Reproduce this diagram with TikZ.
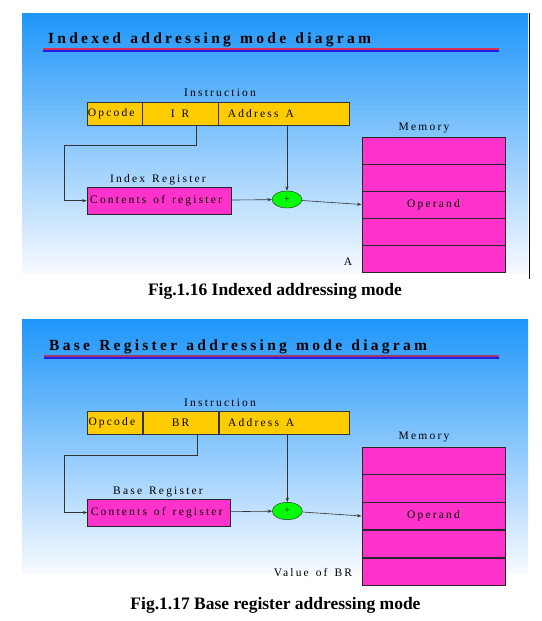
\documentclass[tikz,border=0pt]{standalone}
\usepackage{xcolor}
\usepackage{fontspec}
\setmainfont{Liberation Serif}
\usepackage{tikz}
\usetikzlibrary{shapes,arrows.meta,positioning}

\definecolor{bgtop}{RGB}{30,150,250}
\definecolor{bgmid}{RGB}{150,196,252}
\definecolor{bgbottom}{RGB}{248,250,255}
\definecolor{instrgold}{RGB}{255,204,0}
\definecolor{regpink}{RGB}{255,51,204}
\definecolor{addgreen}{RGB}{0,255,0}
\definecolor{rulered}{RGB}{214,45,80}
\definecolor{rulepurple}{RGB}{158,58,110}
\definecolor{ruleblue}{RGB}{30,30,230}

\newcommand{\lblfont}{\fontsize{11.5}{13}\selectfont\addfontfeature{LetterSpace=19}\spaceskip=7pt\relax}
\newcommand{\headfont}{\fontsize{15.5}{18}\selectfont\bfseries\addfontfeature{LetterSpace=21}\spaceskip=9.3pt\relax}
\newcommand{\cell}[2]{\makebox[#1][l]{#2}}

\tikzset{
  instr/.style={draw=black!80, fill=instrgold, minimum height=23.6pt, inner ysep=0pt, font=\lblfont},
  regbox/.style={draw=black!85, fill=regpink, inner ysep=0pt, font=\lblfont},
  memcell/.style={draw=black!85, fill=regpink, minimum width=143.5pt, inner sep=0pt, font=\lblfont},
  adder/.style={ellipse, draw=black!85, fill=addgreen, inner sep=0pt, font=\fontsize{10}{10}\selectfont},
  lbl/.style={font=\lblfont, anchor=base},
  heading/.style={font=\headfont, anchor=base west, inner sep=0pt},
  caption/.style={font=\fontsize{17.5}{20}\selectfont\bfseries, anchor=base, inner sep=0pt},
  link/.style={draw=black!80, line width=0.6pt}
}

\begin{document}
\begin{tikzpicture}[x=1pt, y=-1pt, >={Stealth[length=4.5pt,width=3.2pt]}]
\useasboundingbox (0,0) rectangle (541,621);

% indexed addressing
\shade[top color=bgtop, middle color=bgmid, bottom color=bgbottom] (22,13) rectangle (528,273);
\draw[line width=0.8pt] (529,13) -- (529,279);
\node (title1) [heading] at (48,43.3) {Indexed addressing mode diagram};
\draw[rulered, line width=2pt] (43,49) -- (499,49);
\draw[ruleblue, line width=2pt] (43,51.4) -- (499,51.4);

\node (opcode1) [instr, anchor=north west, inner xsep=1pt] at (86.7,101.7) {\cell{53pt}{Opcode}};
\node (ir) [instr, right=0pt of opcode1, minimum width=75.6pt, inner xsep=0pt] {I R};
\node (addr1) [instr, right=0pt of ir, inner xsep=9.5pt] {\cell{111.7pt}{Address A}};
\node (instrlbl1) [lbl] at (220,96.5) {Instruction};

\node (m11) [memcell, anchor=north west, minimum height=26.6pt] at (361.5,137) {};
\node (m12) [memcell, minimum height=26.6pt, below=0pt of m11] {};
\node (m13) [memcell, minimum height=26.6pt, below=0pt of m12] {Operand};
\node (m14) [memcell, minimum height=26.6pt, below=0pt of m13] {};
\node (m15) [memcell, minimum height=26.6pt, below=0pt of m14] {};
\node (memlbl1) [lbl] at (424,130.7) {Memory};
\node (alabel) [lbl] at (348,265.7) {A};

\node (ixreg) [regbox, anchor=north west, minimum height=27pt, inner xsep=3.3pt] at (86.7,187) {\cell{137.2pt}{Contents of register}};
\node (ixlbl) [lbl] at (158,182.7) {Index Register};
\node (plus1) [adder, minimum width=30pt, minimum height=17pt] at (287,199.5) {+};

\coordinate (bend1) at (64,145.7);
\draw[link, ->] ([xshift=16.5pt]ir.south) |- (bend1) |- (ixreg.west);
\draw[link, ->] (plus1.north |- addr1.south) -- (plus1.north);
\draw[link, ->] (ixreg) -- (plus1);
\draw[link, ->] (plus1) -- (m13.west);

\node (cap1) [caption] at (275,295) {Fig.1.16 Indexed addressing mode};

% base register addressing
\shade[top color=bgtop, middle color=bgmid, bottom color=bgbottom] (22,319) rectangle (528,573);
\node (title2) [heading] at (49,350) {Base Register addressing mode diagram};
\draw[rulepurple, line width=2pt] (44,355.7) -- (499,355.7);
\draw[ruleblue, line width=2pt] (44,358.1) -- (499,358.1);

\node (opcode2) [instr, anchor=north west, inner xsep=1pt] at (87.3,410.7) {\cell{53pt}{Opcode}};
\node (br) [instr, right=0pt of opcode2, minimum width=75.4pt, inner xsep=0pt] {BR};
\node (addr2) [instr, right=0pt of br, inner xsep=9.5pt] {\cell{111.6pt}{Address A}};
\node (instrlbl2) [lbl] at (220,406) {Instruction};

\node (m21) [memcell, anchor=north west, minimum height=27.3pt] at (361.5,446.7) {};
\node (m22) [memcell, minimum height=27.3pt, below=0pt of m21] {};
\node (m23) [memcell, minimum height=27.3pt, below=0pt of m22] {Operand};
\node (m24) [memcell, minimum height=27.3pt, below=0pt of m23] {};
\node (m25) [memcell, minimum height=27.3pt, below=0pt of m24] {};
\node (memlbl2) [lbl] at (424,439.4) {Memory};
\node (brvalue) [lbl] at (313,576) {Value of BR};

\node (basereg) [regbox, anchor=north west, minimum height=27.3pt, inner xsep=3.3pt] at (87.3,498.7) {\cell{136.4pt}{Contents of register}};
\node (baselbl) [lbl] at (158,494) {Base Register};
\node (plus2) [adder, minimum width=30pt, minimum height=17.4pt] at (287.3,511) {+};

\coordinate (bend2) at (64,455.7);
\draw[link, ->] ([xshift=16.5pt]br.south) |- (bend2) |- (basereg.west);
\draw[link, ->] (plus2.north |- addr2.south) -- (plus2.north);
\draw[link, ->] (basereg) -- (plus2);
\draw[link, ->] (plus2) -- (m23.west);

\node (cap2) [caption] at (275.5,609) {Fig.1.17 Base register addressing mode};
\end{tikzpicture}
\end{document}
